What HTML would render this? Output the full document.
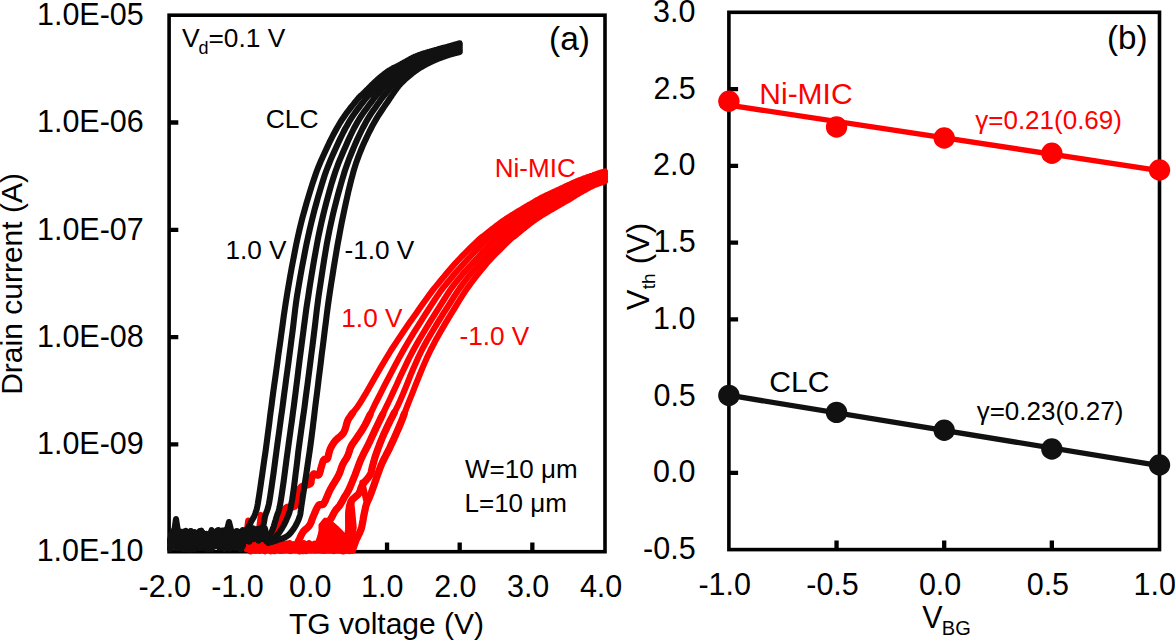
<!DOCTYPE html>
<html><head><meta charset="utf-8"><style>
html,body{margin:0;padding:0;background:#fff;overflow:hidden}
svg{display:block}
text{font-family:"Liberation Sans", sans-serif}
</style></head><body>
<svg width="1175" height="641" viewBox="0 0 1175 641">
<rect width="1175" height="641" fill="#fff"/>
<rect x="169.1" y="15.2" width="435.90" height="536.50" fill="none" stroke="#000" stroke-width="3.6" stroke-linejoin="miter"/>
<rect x="728.9" y="12.3" width="430.60" height="537.30" fill="none" stroke="#000" stroke-width="3.6" stroke-linejoin="miter"/>
<path d="M169.10,122.50H178.30M169.10,229.80H178.30M169.10,337.10H178.30M169.10,444.40H178.30M241.75,551.70V542.50M314.40,551.70V542.50M387.05,551.70V542.50M459.70,551.70V542.50M532.35,551.70V542.50M728.90,89.06H738.10M728.90,165.81H738.10M728.90,242.57H738.10M728.90,319.33H738.10M728.90,396.09H738.10M728.90,472.84H738.10M836.55,549.60V540.40M944.20,549.60V540.40M1051.85,549.60V540.40" stroke="#000" stroke-width="4.3" fill="none"/>
<path d="M244.0,545.7 L245.3,545.7 L246.6,549.1 L247.9,546.9 L249.2,543.5 L250.5,551.5 L251.8,550.6 L253.1,550.8 L254.4,545.1 L255.7,546.3 L257.0,544.9 L258.3,544.1 L259.6,543.3 L262.0,541.0 L264.5,539.8 L267.0,538.7 L269.6,537.7 L272.1,536.5 L274.3,535.0 L276.3,533.2 L277.9,530.8 L279.3,527.9 L280.5,524.8 L281.5,521.6 L282.5,518.7 L283.3,516.3 L283.9,514.3 L284.3,512.7 L284.5,511.2 L284.8,510.0 L285.3,508.9 L286.1,507.9 L287.4,507.3 L289.1,507.0 L291.0,507.0 L292.9,506.8 L294.6,506.2 L296.0,505.0 L297.0,502.9 L297.6,500.0 L298.1,496.7 L298.6,493.4 L299.2,490.4 L300.2,488.2 L301.6,486.8 L303.4,485.9 L305.3,485.3 L307.2,484.9 L308.8,484.5 L310.0,484.0 L310.7,483.3 L311.0,482.7 L311.1,482.1 L311.0,481.5 L311.0,480.8 L311.2,480.0 L311.5,479.0 L311.8,477.9 L312.2,476.7 L312.6,475.6 L313.1,474.6 L313.7,474.0 L314.4,473.8 L315.3,474.1 L316.2,474.5 L317.1,475.0 L318.0,475.2 L318.7,474.9 L319.3,474.1 L319.7,473.0 L320.1,471.7 L320.5,470.2 L320.8,468.7 L321.2,467.4 L321.6,466.1 L322.0,464.7 L322.4,463.3 L322.8,461.9 L323.2,460.8 L323.7,459.9 L324.3,459.4 L324.9,459.3 L325.5,459.4 L326.2,459.4 L326.8,459.3 L327.4,458.7 L327.9,457.7 L328.2,456.3 L328.6,454.8 L328.9,453.1 L329.4,451.4 L329.9,449.9 L330.5,448.4 L331.2,447.0 L332.0,445.5 L332.9,444.1 L333.8,442.6 L334.9,441.2 L336.2,439.8 L337.7,438.4 L339.4,437.0 L341.0,435.6 L342.5,434.1 L343.7,432.5 L344.6,430.7 L345.3,428.7 L345.9,426.7 L346.4,424.7 L346.9,422.8 L347.5,421.2 L348.0,420.0 L348.5,419.1 L348.9,418.3 L349.5,417.5 L350.2,416.5 L351.2,415.0 L352.4,413.4 L353.6,411.9 L354.9,410.2 L356.7,407.9 L359.0,404.6 L361.9,400.0 L365.7,393.7 L370.1,385.9 L375.1,377.2 L380.4,368.0 L385.9,358.7 L391.2,350.0 L396.9,341.3 L403.0,332.2 L409.3,323.1 L415.4,314.4 L420.9,306.6 L425.6,300.0 L429.3,294.9 L432.1,291.1 L434.4,288.1 L436.5,285.6 L438.7,283.0 L441.1,280.0 L443.9,276.7 L446.7,273.3 L449.5,270.0 L452.3,266.7 L455.3,263.3 L458.4,260.0 L461.7,256.5 L465.4,252.8 L469.2,249.0 L472.8,245.5 L476.0,242.4 L478.5,240.0 L480.3,238.4 L481.4,237.4 L482.2,236.9 L482.7,236.5 L483.3,236.2 L484.0,235.7 L484.9,234.9 L485.8,234.2 L486.8,233.4 L487.7,232.7 L488.6,231.9 L489.5,231.2 L490.4,230.5 L491.3,229.7 L492.2,229.0 L493.2,228.3 L494.1,227.6 L495.0,226.9 L495.9,226.2 L496.8,225.5 L497.8,224.8 L498.7,224.1 L499.6,223.4 L500.5,222.7 L501.4,222.1 L502.3,221.4 L503.2,220.8 L504.2,220.2 L505.1,219.6 L506.0,218.9 L506.9,218.3 L507.8,217.7 L508.8,217.1 L509.7,216.6 L510.6,216.0 L511.5,215.4 L512.4,214.8 L513.3,214.3 L514.2,213.7 L515.2,213.1 L516.1,212.6 L517.0,212.0 L517.9,211.5 L518.8,210.9 L519.8,210.4 L520.7,209.8 L521.6,209.3 L522.5,208.7 L523.4,208.2 L524.3,207.6 L525.2,207.1 L526.2,206.6 L527.1,206.0 L528.0,205.5 L528.9,205.0 L529.8,204.4 L530.8,203.9 L531.7,203.4 L532.6,202.8 L533.5,202.3 L534.4,201.7 L535.3,201.2 L536.2,200.6 L537.2,200.1 L538.1,199.6 L539.0,199.1 L539.9,198.6 L540.8,198.1 L541.8,197.6 L542.7,197.1 L543.6,196.7 L544.5,196.2 L545.4,195.8 L546.3,195.4 L547.2,194.9 L548.2,194.5 L549.1,194.1 L550.0,193.6 L550.9,193.2 L551.8,192.8 L552.8,192.4 L553.7,191.9 L554.6,191.5 L555.5,191.1 L556.4,190.7 L557.3,190.2 L558.2,189.8 L559.2,189.4 L560.1,189.0 L561.0,188.5 L561.9,188.1 L562.8,187.7 L563.8,187.2 L564.7,186.8 L565.6,186.4 L566.5,185.9 L567.4,185.5 L568.3,185.1 L569.2,184.7 L570.2,184.3 L571.1,183.9 L572.0,183.4 L572.9,183.0 L573.8,182.6 L574.8,182.2 L575.7,181.8 L576.6,181.4 L577.5,181.0 L578.4,180.7 L579.3,180.3 L580.2,179.9 L581.2,179.6 L582.1,179.2 L583.0,178.9 L583.9,178.5 L584.8,178.2 L585.8,177.9 L586.7,177.5 L587.6,177.2 L588.5,176.9 L589.4,176.6 L590.3,176.2 L591.2,175.9 L592.2,175.6 L593.1,175.3 L594.0,174.9 L594.9,174.6 L595.8,174.3 L596.8,174.0 L597.7,173.6 L598.6,173.3 L599.5,173.0 L600.4,172.8 L601.3,172.5 L602.2,172.2 L603.2,172.0 L604.1,171.8 L605.0,171.5" fill="none" stroke="#ff0000" stroke-width="6.1" stroke-linejoin="round" stroke-linecap="round"/>
<path d="M262.0,541.0 L264.5,539.8 L267.0,538.7 L269.6,537.7 L272.1,536.5 L274.3,535.0 L276.3,533.2 L277.9,530.8 L279.3,527.9 L280.5,524.8 L281.5,521.6 L282.5,518.7 L283.3,516.3 L283.9,514.3 L284.3,512.7 L284.5,511.2 L284.8,510.0 L285.3,508.9 L286.1,507.9 L287.4,507.3 L289.1,507.0 L291.0,507.0 L292.9,506.8 L294.6,506.2 L296.0,505.0 L297.0,502.9 L297.6,500.0 L298.1,496.7 L298.6,493.4 L299.2,490.4 L300.2,488.2 L301.6,486.8 L303.4,485.9 L305.3,485.3 L307.2,484.9 L308.8,484.5 L310.0,484.0 L310.7,483.3 L311.0,482.7 L311.1,482.1 L311.0,481.5 L311.0,480.8 L311.2,480.0 L311.5,479.0 L311.8,477.9 L312.2,476.7 L312.6,475.6 L313.1,474.6 L313.7,474.0 L314.4,473.8 L315.3,474.1 L316.2,474.5 L317.1,475.0 L318.0,475.2 L318.7,474.9 L319.3,474.1 L319.7,473.0 L320.1,471.7 L320.5,470.2 L320.8,468.7 L321.2,467.4 L321.6,466.1 L322.0,464.7 L322.4,463.3 L322.8,461.9 L323.2,460.8 L323.7,459.9 L324.3,459.4 L324.9,459.3 L325.5,459.4 L326.2,459.4 L326.8,459.3 L327.4,458.7 L327.9,457.7 L328.2,456.3 L328.6,454.8 L328.9,453.1 L329.4,451.4 L329.9,449.9 L330.5,448.4 L331.2,447.0 L332.0,445.5 L332.9,444.1 L333.8,442.6 L334.9,441.2 L336.2,439.8 L337.7,438.4 L339.4,437.0 L341.0,435.6 L342.5,434.1 L343.7,432.5 L344.6,430.7 L345.3,428.7 L345.9,426.7 L346.4,424.7 L346.9,422.8 L347.5,421.2 L348.0,420.0 L348.5,419.1 L348.9,418.3 L349.5,417.5 L350.2,416.5 L351.2,415.0 L352.4,413.4" fill="none" stroke="#ff0000" stroke-width="7.2" stroke-linejoin="round" stroke-linecap="round"/>
<path d="M246.0,547.3 L247.3,544.0 L248.6,544.5 L249.9,550.3 L251.2,547.1 L252.5,544.6 L253.8,548.7 L255.1,545.3 L256.4,547.5 L257.7,545.4 L259.0,547.4 L260.3,548.3 L261.6,547.6 L262.9,546.4 L264.2,549.7 L265.5,550.4 L266.8,544.5 L268.1,544.2 L269.4,544.0 L270.7,551.3 L272.0,551.0 L273.3,545.0 L274.6,551.2 L275.9,544.8 L277.2,547.3 L278.5,547.2 L279.8,550.8 L281.1,543.3 L282.4,545.7 L283.7,548.1 L285.0,543.6 L286.3,545.0 L287.6,547.0 L288.9,550.5 L290.2,549.5 L291.5,550.0 L292.8,549.5 L294.1,549.0 L295.4,550.2 L298.0,542.0 L298.8,540.3 L299.7,538.5 L300.5,536.7 L301.3,534.9 L302.2,533.3 L303.1,531.8 L304.1,530.6 L305.2,529.6 L306.3,528.7 L307.4,527.8 L308.4,526.8 L309.4,525.5 L310.3,523.9 L311.1,522.2 L311.8,520.2 L312.5,518.3 L313.2,516.4 L314.0,514.6 L314.8,512.9 L315.5,511.1 L316.3,509.3 L317.1,507.7 L317.9,506.3 L318.7,505.2 L319.5,504.6 L320.3,504.6 L321.1,504.7 L321.9,504.8 L322.8,504.6 L323.7,503.7 L324.6,502.1 L325.6,500.1 L326.6,497.7 L327.7,495.1 L328.8,492.5 L330.0,490.0 L331.4,487.5 L332.9,484.9 L334.5,482.3 L336.1,479.7 L337.5,477.2 L338.7,475.0 L339.6,473.0 L340.3,471.2 L340.8,469.6 L341.3,468.0 L341.9,466.4 L342.5,464.9 L343.3,463.4 L344.1,461.9 L345.0,460.5 L345.9,459.1 L346.7,457.7 L347.5,456.2 L348.2,454.6 L348.8,452.9 L349.4,451.1 L349.9,449.4 L350.5,447.7 L351.2,446.2 L351.9,444.9 L352.6,443.7 L353.4,442.7 L354.2,441.6 L355.1,440.3 L356.2,438.7 L357.4,436.9 L358.7,435.0 L360.1,432.9 L361.7,430.6 L363.3,428.0 L365.0,425.0 L366.7,421.8 L368.3,418.4 L370.0,414.8 L372.0,410.6 L374.3,405.7 L377.2,400.0 L380.7,393.1 L384.7,385.2 L389.2,376.6 L393.9,367.6 L398.7,358.6 L403.5,350.0 L408.6,341.3 L414.1,332.2 L419.8,323.1 L425.3,314.4 L430.3,306.6 L434.6,300.0 L438.0,294.9 L440.7,291.1 L442.9,288.1 L445.0,285.6 L447.1,283.0 L449.6,280.0 L452.3,276.7 L455.1,273.3 L458.0,270.0 L461.0,266.7 L464.0,263.3 L467.0,260.0 L470.3,256.5 L473.8,252.7 L477.4,249.0 L480.8,245.5 L483.9,242.4 L486.3,240.0 L488.0,238.4 L489.1,237.5 L489.8,237.0 L490.3,236.7 L490.8,236.4 L491.4,235.9 L492.3,235.2 L493.2,234.5 L494.0,233.8 L494.9,233.1 L495.8,232.4 L496.6,231.7 L497.5,231.0 L498.3,230.3 L499.2,229.6 L500.1,229.0 L500.9,228.3 L501.8,227.6 L502.6,226.9 L503.5,226.3 L504.4,225.6 L505.2,225.0 L506.1,224.3 L506.9,223.7 L507.8,223.1 L508.7,222.4 L509.5,221.8 L510.4,221.2 L511.2,220.6 L512.1,220.0 L513.0,219.4 L513.8,218.9 L514.7,218.3 L515.5,217.7 L516.4,217.2 L517.3,216.6 L518.1,216.1 L519.0,215.5 L519.8,215.0 L520.7,214.4 L521.6,213.9 L522.4,213.4 L523.3,212.8 L524.1,212.3 L525.0,211.8 L525.9,211.3 L526.7,210.8 L527.6,210.2 L528.4,209.7 L529.3,209.2 L530.2,208.7 L531.0,208.2 L531.9,207.7 L532.7,207.2 L533.6,206.7 L534.5,206.2 L535.3,205.7 L536.2,205.2 L537.0,204.7 L537.9,204.2 L538.8,203.7 L539.6,203.1 L540.5,202.6 L541.3,202.1 L542.2,201.6 L543.1,201.1 L543.9,200.7 L544.8,200.2 L545.6,199.8 L546.5,199.3 L547.4,198.9 L548.2,198.4 L549.1,198.0 L549.9,197.6 L550.8,197.1 L551.7,196.7 L552.5,196.3 L553.4,195.9 L554.2,195.5 L555.1,195.0 L556.0,194.6 L556.8,194.2 L557.7,193.8 L558.5,193.4 L559.4,193.0 L560.3,192.5 L561.1,192.1 L562.0,191.7 L562.8,191.3 L563.7,190.8 L564.6,190.4 L565.4,190.0 L566.3,189.5 L567.1,189.1 L568.0,188.7 L568.9,188.2 L569.7,187.8 L570.6,187.4 L571.5,187.0 L572.3,186.6 L573.2,186.2 L574.0,185.8 L574.9,185.3 L575.8,184.9 L576.6,184.5 L577.5,184.1 L578.3,183.8 L579.2,183.4 L580.1,183.0 L580.9,182.6 L581.8,182.2 L582.6,181.9 L583.5,181.5 L584.4,181.2 L585.2,180.8 L586.1,180.5 L586.9,180.1 L587.8,179.8 L588.7,179.5 L589.5,179.1 L590.4,178.8 L591.2,178.5 L592.1,178.2 L593.0,177.9 L593.8,177.6 L594.7,177.3 L595.5,176.9 L596.4,176.6 L597.3,176.3 L598.1,176.0 L599.0,175.7 L599.8,175.5 L600.7,175.2 L601.6,174.9 L602.4,174.7 L603.3,174.4 L604.1,174.2 L605.0,173.9" fill="none" stroke="#ff0000" stroke-width="6.1" stroke-linejoin="round" stroke-linecap="round"/>
<path d="M298.0,542.0 L298.8,540.3 L299.7,538.5 L300.5,536.7 L301.3,534.9 L302.2,533.3 L303.1,531.8 L304.1,530.6 L305.2,529.6 L306.3,528.7 L307.4,527.8 L308.4,526.8 L309.4,525.5 L310.3,523.9 L311.1,522.2 L311.8,520.2 L312.5,518.3 L313.2,516.4 L314.0,514.6 L314.8,512.9 L315.5,511.1 L316.3,509.3 L317.1,507.7 L317.9,506.3 L318.7,505.2 L319.5,504.6 L320.3,504.6 L321.1,504.7 L321.9,504.8 L322.8,504.6 L323.7,503.7 L324.6,502.1 L325.6,500.1 L326.6,497.7 L327.7,495.1 L328.8,492.5 L330.0,490.0 L331.4,487.5 L332.9,484.9 L334.5,482.3 L336.1,479.7 L337.5,477.2 L338.7,475.0 L339.6,473.0 L340.3,471.2 L340.8,469.6 L341.3,468.0 L341.9,466.4 L342.5,464.9 L343.3,463.4 L344.1,461.9 L345.0,460.5 L345.9,459.1 L346.7,457.7 L347.5,456.2 L348.2,454.6 L348.8,452.9 L349.4,451.1 L349.9,449.4 L350.5,447.7 L351.2,446.2 L351.9,444.9 L352.6,443.7 L353.4,442.7 L354.2,441.6 L355.1,440.3 L356.2,438.7 L357.4,436.9 L358.7,435.0 L360.1,432.9 L361.7,430.6 L363.3,428.0 L365.0,425.0 L366.7,421.8 L368.3,418.4 L370.0,414.8" fill="none" stroke="#ff0000" stroke-width="7.2" stroke-linejoin="round" stroke-linecap="round"/>
<path d="M248.0,548.8 L249.3,549.3 L250.6,545.6 L251.9,544.4 L253.2,549.4 L254.5,544.4 L255.8,550.8 L257.1,548.1 L258.4,545.8 L259.7,551.0 L261.0,544.3 L262.3,547.4 L263.6,543.8 L264.9,551.2 L266.2,547.9 L267.5,549.8 L268.8,545.4 L270.1,549.8 L271.4,549.0 L272.7,548.5 L274.0,551.1 L275.3,546.7 L276.6,546.5 L277.9,548.9 L279.2,550.1 L280.5,545.8 L281.8,548.7 L283.1,544.8 L284.4,547.7 L285.7,549.5 L287.0,543.6 L288.3,549.2 L289.6,543.1 L290.9,551.1 L292.2,547.0 L293.5,546.5 L294.8,549.1 L296.1,547.4 L297.4,549.2 L298.7,543.7 L300.0,547.8 L301.3,547.7 L302.6,550.9 L303.9,543.3 L305.2,546.8 L306.5,548.4 L307.8,547.7 L309.1,543.6 L310.4,548.0 L311.7,544.9 L313.0,544.7 L314.3,550.5 L315.6,544.7 L318.0,545.0 L318.8,542.6 L319.6,540.2 L320.4,537.8 L321.1,535.4 L321.9,533.2 L322.5,531.2 L323.0,529.4 L323.4,527.7 L323.7,526.1 L324.1,524.7 L324.5,523.4 L325.0,522.4 L325.7,521.7 L326.5,521.4 L327.3,521.2 L328.2,521.0 L329.1,520.7 L330.0,520.0 L330.8,518.9 L331.7,517.4 L332.5,515.8 L333.3,514.2 L334.2,512.6 L335.0,511.2 L335.8,510.0 L336.7,509.0 L337.5,508.1 L338.3,507.2 L339.2,506.2 L340.0,505.0 L340.8,503.7 L341.7,502.2 L342.6,500.6 L343.4,499.0 L344.2,497.5 L345.0,496.2 L345.7,495.1 L346.2,494.3 L346.8,493.5 L347.3,492.6 L347.9,491.5 L348.7,490.0 L349.6,488.0 L350.6,485.7 L351.7,483.1 L352.8,480.4 L353.9,477.7 L355.0,475.0 L356.0,472.3 L357.0,469.6 L358.0,466.9 L359.0,464.1 L360.1,461.4 L361.2,458.7 L362.4,456.2 L363.6,453.7 L364.8,451.4 L366.1,448.9 L367.4,446.4 L368.7,443.7 L370.1,440.9 L371.4,438.0 L372.8,435.0 L374.3,431.8 L375.8,428.5 L377.5,425.0 L379.2,421.5 L380.8,418.1 L382.6,414.5 L384.5,410.4 L386.8,405.7 L389.5,400.0 L392.7,393.1 L396.4,385.2 L400.3,376.6 L404.6,367.6 L408.9,358.6 L413.4,350.0 L418.3,341.3 L423.7,332.2 L429.2,323.1 L434.7,314.4 L439.6,306.6 L443.8,300.0 L447.0,294.9 L449.5,291.1 L451.6,288.1 L453.4,285.6 L455.4,283.0 L457.8,280.0 L460.5,276.7 L463.4,273.3 L466.3,270.0 L469.4,266.7 L472.4,263.3 L475.5,260.0 L478.7,256.5 L482.1,252.7 L485.6,249.0 L488.9,245.5 L491.8,242.4 L494.1,240.0 L495.7,238.4 L496.7,237.5 L497.3,237.1 L497.8,236.8 L498.3,236.6 L498.9,236.2 L499.7,235.5 L500.5,234.8 L501.3,234.2 L502.1,233.5 L502.9,232.9 L503.7,232.2 L504.5,231.6 L505.3,230.9 L506.1,230.3 L506.9,229.6 L507.7,229.0 L508.5,228.3 L509.3,227.7 L510.2,227.1 L511.0,226.5 L511.8,225.8 L512.6,225.2 L513.4,224.6 L514.2,224.0 L515.0,223.4 L515.8,222.8 L516.6,222.2 L517.4,221.7 L518.2,221.1 L519.0,220.5 L519.8,220.0 L520.6,219.4 L521.4,218.9 L522.2,218.3 L523.0,217.8 L523.8,217.3 L524.6,216.8 L525.4,216.2 L526.2,215.7 L527.0,215.2 L527.8,214.7 L528.6,214.2 L529.4,213.7 L530.2,213.2 L531.0,212.7 L531.9,212.2 L532.7,211.7 L533.5,211.3 L534.3,210.8 L535.1,210.3 L535.9,209.8 L536.7,209.3 L537.5,208.9 L538.3,208.4 L539.1,207.9 L539.9,207.5 L540.7,207.0 L541.5,206.5 L542.3,206.1 L543.1,205.6 L543.9,205.1 L544.7,204.6 L545.5,204.2 L546.3,203.7 L547.1,203.2 L547.9,202.8 L548.7,202.3 L549.5,201.9 L550.3,201.5 L551.1,201.0 L551.9,200.6 L552.8,200.2 L553.6,199.8 L554.4,199.3 L555.2,198.9 L556.0,198.5 L556.8,198.1 L557.6,197.7 L558.4,197.3 L559.2,196.9 L560.0,196.5 L560.8,196.1 L561.6,195.7 L562.4,195.3 L563.2,194.8 L564.0,194.4 L564.8,194.0 L565.6,193.6 L566.4,193.1 L567.2,192.7 L568.0,192.3 L568.8,191.8 L569.6,191.4 L570.4,191.0 L571.2,190.5 L572.0,190.1 L572.8,189.7 L573.7,189.3 L574.5,188.9 L575.3,188.5 L576.1,188.1 L576.9,187.7 L577.7,187.3 L578.5,186.9 L579.3,186.5 L580.1,186.1 L580.9,185.7 L581.7,185.3 L582.5,184.9 L583.3,184.6 L584.1,184.2 L584.9,183.8 L585.7,183.5 L586.5,183.1 L587.3,182.8 L588.1,182.4 L588.9,182.1 L589.7,181.7 L590.5,181.4 L591.3,181.1 L592.1,180.8 L592.9,180.5 L593.7,180.2 L594.6,179.9 L595.4,179.6 L596.2,179.3 L597.0,179.0 L597.8,178.7 L598.6,178.4 L599.4,178.1 L600.2,177.9 L601.0,177.6 L601.8,177.4 L602.6,177.1 L603.4,176.9 L604.2,176.6 L605.0,176.4" fill="none" stroke="#ff0000" stroke-width="6.1" stroke-linejoin="round" stroke-linecap="round"/>
<path d="M318.0,545.0 L318.8,542.6 L319.6,540.2 L320.4,537.8 L321.1,535.4 L321.9,533.2 L322.5,531.2 L323.0,529.4 L323.4,527.7 L323.7,526.1 L324.1,524.7 L324.5,523.4 L325.0,522.4 L325.7,521.7 L326.5,521.4 L327.3,521.2 L328.2,521.0 L329.1,520.7 L330.0,520.0 L330.8,518.9 L331.7,517.4 L332.5,515.8 L333.3,514.2 L334.2,512.6 L335.0,511.2 L335.8,510.0 L336.7,509.0 L337.5,508.1 L338.3,507.2 L339.2,506.2 L340.0,505.0 L340.8,503.7 L341.7,502.2 L342.6,500.6 L343.4,499.0 L344.2,497.5 L345.0,496.2 L345.7,495.1 L346.2,494.3 L346.8,493.5 L347.3,492.6 L347.9,491.5 L348.7,490.0 L349.6,488.0 L350.6,485.7 L351.7,483.1 L352.8,480.4 L353.9,477.7 L355.0,475.0 L356.0,472.3 L357.0,469.6 L358.0,466.9 L359.0,464.1 L360.1,461.4 L361.2,458.7 L362.4,456.2 L363.6,453.7 L364.8,451.4 L366.1,448.9 L367.4,446.4 L368.7,443.7 L370.1,440.9 L371.4,438.0 L372.8,435.0 L374.3,431.8 L375.8,428.5 L377.5,425.0 L379.2,421.5 L380.8,418.1 L382.6,414.5" fill="none" stroke="#ff0000" stroke-width="7.2" stroke-linejoin="round" stroke-linecap="round"/>
<path d="M250.0,546.9 L251.3,549.4 L252.6,549.0 L253.9,547.7 L255.2,549.9 L256.5,547.0 L257.8,548.3 L259.1,550.0 L260.4,548.8 L261.7,548.5 L263.0,546.5 L264.3,547.7 L265.6,546.4 L266.9,549.3 L268.2,546.2 L269.5,547.0 L270.8,549.4 L272.1,547.3 L273.4,545.9 L274.7,550.0 L276.0,546.2 L277.3,550.2 L278.6,549.7 L279.9,546.8 L281.2,549.1 L282.5,543.3 L283.8,546.3 L285.1,550.3 L286.4,547.9 L287.7,547.7 L289.0,548.7 L290.3,548.8 L291.6,548.0 L292.9,546.6 L294.2,544.6 L295.5,545.5 L296.8,545.5 L298.1,546.7 L299.4,551.5 L300.7,546.0 L302.0,546.8 L303.3,546.2 L304.6,547.9 L305.9,551.1 L307.2,550.6 L308.5,546.2 L309.8,545.3 L311.1,550.5 L312.4,547.2 L313.7,548.8 L315.0,543.6 L316.3,550.4 L317.6,545.7 L318.9,547.2 L320.2,544.7 L321.5,546.6 L322.8,550.0 L324.1,550.0 L325.4,547.0 L326.7,549.5 L328.0,546.9 L329.3,546.2 L330.6,547.6 L331.9,544.7 L333.2,545.7 L334.5,549.0 L335.8,549.5 L337.1,543.5 L338.4,549.2 L339.7,549.9 L341.0,546.8 L342.3,543.5 L345.0,550.0 L345.4,547.9 L345.9,545.7 L346.3,543.5 L346.8,541.4 L347.2,539.3 L347.5,537.4 L347.8,535.6 L348.0,534.1 L348.3,532.5 L348.4,531.0 L348.6,529.3 L348.7,527.4 L348.7,525.2 L348.7,522.7 L348.6,520.0 L348.6,517.4 L348.6,514.8 L348.7,512.5 L348.9,510.4 L349.2,508.3 L349.5,506.4 L349.9,504.6 L350.5,502.8 L351.2,501.2 L352.2,499.7 L353.5,498.5 L354.9,497.3 L356.3,496.1 L357.6,495.0 L358.7,493.7 L359.5,492.3 L360.1,490.9 L360.5,489.5 L361.0,488.0 L361.6,486.5 L362.4,485.0 L363.5,483.4 L364.8,481.7 L366.3,480.0 L367.7,478.3 L369.0,476.6 L370.0,475.0 L370.7,473.5 L371.2,472.1 L371.5,470.8 L371.8,469.4 L372.1,467.9 L372.5,466.2 L373.0,464.4 L373.6,462.4 L374.1,460.4 L374.7,458.3 L375.4,456.0 L376.2,453.7 L377.1,451.2 L378.0,448.6 L379.1,445.8 L380.1,443.0 L381.3,440.2 L382.4,437.5 L383.5,434.8 L384.7,432.3 L385.9,429.7 L387.1,427.0 L388.5,424.2 L389.9,421.2 L391.4,418.3 L392.8,415.6 L394.3,412.7 L396.0,409.4 L398.0,405.3 L400.4,400.0 L403.3,393.3 L406.5,385.5 L409.9,376.8 L413.7,367.7 L417.7,358.7 L421.9,350.0 L426.6,341.3 L431.9,332.2 L437.4,323.1 L442.8,314.4 L447.8,306.6 L452.0,300.0 L455.2,294.9 L457.7,291.1 L459.7,288.1 L461.5,285.6 L463.5,283.0 L465.8,280.0 L468.4,276.7 L471.1,273.3 L474.0,270.0 L476.9,266.7 L479.9,263.3 L482.9,260.0 L486.1,256.5 L489.6,252.7 L493.1,249.0 L496.5,245.5 L499.5,242.4 L501.9,240.0 L503.5,238.5 L504.4,237.6 L505.0,237.2 L505.4,237.0 L505.8,236.8 L506.3,236.4 L507.1,235.8 L507.8,235.2 L508.6,234.6 L509.3,234.0 L510.1,233.3 L510.8,232.7 L511.6,232.1 L512.3,231.5 L513.1,230.9 L513.8,230.3 L514.6,229.7 L515.3,229.1 L516.1,228.5 L516.8,227.9 L517.6,227.3 L518.3,226.7 L519.1,226.1 L519.8,225.6 L520.5,225.0 L521.3,224.4 L522.0,223.8 L522.8,223.3 L523.5,222.7 L524.3,222.2 L525.0,221.6 L525.8,221.1 L526.5,220.6 L527.3,220.0 L528.0,219.5 L528.8,219.0 L529.5,218.5 L530.3,218.0 L531.0,217.5 L531.8,217.0 L532.5,216.5 L533.3,216.0 L534.0,215.6 L534.7,215.1 L535.5,214.6 L536.2,214.2 L537.0,213.7 L537.7,213.2 L538.5,212.8 L539.2,212.3 L540.0,211.9 L540.7,211.4 L541.5,211.0 L542.2,210.6 L543.0,210.1 L543.7,209.7 L544.5,209.2 L545.2,208.8 L546.0,208.4 L546.7,207.9 L547.5,207.5 L548.2,207.1 L548.9,206.6 L549.7,206.2 L550.4,205.8 L551.2,205.3 L551.9,204.9 L552.7,204.5 L553.4,204.1 L554.2,203.6 L554.9,203.2 L555.7,202.8 L556.4,202.4 L557.2,202.0 L557.9,201.6 L558.7,201.2 L559.4,200.7 L560.2,200.3 L560.9,199.9 L561.7,199.6 L562.4,199.2 L563.1,198.8 L563.9,198.4 L564.6,198.0 L565.4,197.6 L566.1,197.1 L566.9,196.7 L567.6,196.3 L568.4,195.9 L569.1,195.4 L569.9,195.0 L570.6,194.6 L571.4,194.1 L572.1,193.7 L572.9,193.2 L573.6,192.8 L574.4,192.4 L575.1,192.0 L575.9,191.6 L576.6,191.2 L577.3,190.8 L578.1,190.4 L578.8,190.0 L579.6,189.6 L580.3,189.2 L581.1,188.8 L581.8,188.4 L582.6,188.0 L583.3,187.6 L584.1,187.2 L584.8,186.9 L585.6,186.5 L586.3,186.1 L587.1,185.8 L587.8,185.4 L588.6,185.0 L589.3,184.7 L590.1,184.3 L590.8,184.0 L591.5,183.7 L592.3,183.4 L593.0,183.0 L593.8,182.7 L594.5,182.4 L595.3,182.2 L596.0,181.9 L596.8,181.6 L597.5,181.3 L598.3,181.1 L599.0,180.8 L599.8,180.5 L600.5,180.3 L601.3,180.0 L602.0,179.8 L602.8,179.6 L603.5,179.3 L604.3,179.1 L605.0,178.9" fill="none" stroke="#ff0000" stroke-width="6.1" stroke-linejoin="round" stroke-linecap="round"/>
<path d="M345.0,550.0 L345.4,547.9 L345.9,545.7 L346.3,543.5 L346.8,541.4 L347.2,539.3 L347.5,537.4 L347.8,535.6 L348.0,534.1 L348.3,532.5 L348.4,531.0 L348.6,529.3 L348.7,527.4 L348.7,525.2 L348.7,522.7 L348.6,520.0 L348.6,517.4 L348.6,514.8 L348.7,512.5 L348.9,510.4 L349.2,508.3 L349.5,506.4 L349.9,504.6 L350.5,502.8 L351.2,501.2 L352.2,499.7 L353.5,498.5 L354.9,497.3 L356.3,496.1 L357.6,495.0 L358.7,493.7 L359.5,492.3 L360.1,490.9 L360.5,489.5 L361.0,488.0 L361.6,486.5 L362.4,485.0 L363.5,483.4 L364.8,481.7 L366.3,480.0 L367.7,478.3 L369.0,476.6 L370.0,475.0 L370.7,473.5 L371.2,472.1 L371.5,470.8 L371.8,469.4 L372.1,467.9 L372.5,466.2 L373.0,464.4 L373.6,462.4 L374.1,460.4 L374.7,458.3 L375.4,456.0 L376.2,453.7 L377.1,451.2 L378.0,448.6 L379.1,445.8 L380.1,443.0 L381.3,440.2 L382.4,437.5 L383.5,434.8 L384.7,432.3 L385.9,429.7 L387.1,427.0 L388.5,424.2 L389.9,421.2 L391.4,418.3 L392.8,415.6 L394.3,412.7" fill="none" stroke="#ff0000" stroke-width="7.2" stroke-linejoin="round" stroke-linecap="round"/>
<path d="M252.0,548.8 L253.3,545.1 L254.6,548.5 L255.9,546.2 L257.2,548.4 L258.5,545.2 L259.8,547.1 L261.1,547.5 L262.4,548.4 L263.7,544.7 L265.0,551.2 L266.3,545.5 L267.6,545.6 L268.9,545.2 L270.2,543.6 L271.5,546.6 L272.8,549.6 L274.1,549.0 L275.4,544.7 L276.7,544.2 L278.0,545.7 L279.3,549.5 L280.6,547.1 L281.9,550.8 L283.2,548.6 L284.5,548.3 L285.8,549.5 L287.1,549.4 L288.4,545.9 L289.7,545.2 L291.0,546.7 L292.3,547.2 L293.6,544.2 L294.9,546.8 L296.2,548.4 L297.5,544.2 L298.8,544.2 L300.1,544.5 L301.4,545.4 L302.7,551.2 L304.0,543.2 L305.3,544.6 L306.6,544.4 L307.9,547.0 L309.2,543.1 L310.5,546.9 L311.8,544.4 L313.1,545.3 L314.4,549.7 L315.7,544.6 L317.0,548.2 L318.3,546.5 L319.6,546.5 L320.9,549.9 L322.2,544.4 L323.5,550.9 L324.8,550.6 L326.1,548.7 L327.4,543.4 L328.7,548.6 L330.0,548.1 L331.3,549.6 L332.6,544.8 L333.9,551.1 L335.2,550.5 L336.5,544.0 L337.8,545.7 L339.1,543.3 L340.4,550.1 L341.7,550.8 L343.0,551.4 L344.3,548.2 L345.6,548.7 L346.9,548.8 L348.2,547.8 L349.5,551.1 L352.5,550.0 L353.1,548.3 L353.7,546.7 L354.3,545.0 L354.9,543.3 L355.5,541.6 L356.2,539.9 L357.0,538.1 L357.9,536.3 L358.8,534.5 L359.7,532.6 L360.5,530.7 L361.2,528.7 L361.8,526.7 L362.2,524.6 L362.6,522.5 L363.0,520.3 L363.3,518.2 L363.7,516.2 L364.1,514.2 L364.5,512.3 L364.9,510.4 L365.3,508.5 L365.7,506.7 L366.2,505.0 L366.7,503.5 L367.3,502.1 L367.9,500.8 L368.5,499.4 L369.2,497.9 L369.9,496.2 L370.7,494.1 L371.6,491.8 L372.5,489.3 L373.4,486.8 L374.2,484.5 L374.9,482.5 L375.4,480.9 L375.9,479.7 L376.2,478.6 L376.6,477.6 L377.0,476.4 L377.5,474.9 L378.2,473.1 L378.9,471.2 L379.6,469.1 L380.5,466.9 L381.4,464.7 L382.4,462.4 L383.5,460.1 L384.6,457.9 L385.8,455.5 L387.1,453.0 L388.5,450.4 L389.9,447.4 L391.4,444.1 L393.1,440.6 L394.8,436.8 L396.5,432.9 L398.2,429.0 L399.9,425.0 L401.4,421.3 L402.8,417.8 L404.1,414.2 L405.6,410.3 L407.4,405.6 L409.6,400.0 L412.4,393.1 L415.5,385.2 L418.9,376.6 L422.6,367.6 L426.5,358.6 L430.6,350.0 L435.1,341.3 L440.2,332.2 L445.5,323.1 L450.8,314.4 L455.6,306.6 L459.6,300.0 L462.8,294.9 L465.3,291.1 L467.3,288.1 L469.2,285.6 L471.1,283.0 L473.4,280.0 L475.9,276.7 L478.5,273.3 L481.2,270.0 L484.0,266.7 L486.8,263.3 L489.8,260.0 L493.1,256.5 L496.7,252.7 L500.5,249.0 L504.1,245.4 L507.2,242.4 L509.6,240.0 L511.2,238.5 L512.2,237.7 L512.7,237.3 L513.0,237.2 L513.3,237.0 L513.8,236.7 L514.5,236.1 L515.2,235.5 L515.9,235.0 L516.6,234.4 L517.3,233.8 L517.9,233.2 L518.6,232.7 L519.3,232.1 L520.0,231.5 L520.7,231.0 L521.4,230.4 L522.1,229.8 L522.8,229.3 L523.5,228.7 L524.2,228.2 L524.9,227.6 L525.5,227.0 L526.2,226.5 L526.9,225.9 L527.6,225.4 L528.3,224.9 L529.0,224.3 L529.7,223.8 L530.4,223.3 L531.1,222.7 L531.8,222.2 L532.5,221.7 L533.1,221.2 L533.8,220.7 L534.5,220.2 L535.2,219.7 L535.9,219.2 L536.6,218.8 L537.3,218.3 L538.0,217.8 L538.7,217.4 L539.4,216.9 L540.1,216.5 L540.7,216.0 L541.4,215.6 L542.1,215.2 L542.8,214.8 L543.5,214.3 L544.2,213.9 L544.9,213.5 L545.6,213.1 L546.3,212.7 L547.0,212.2 L547.7,211.8 L548.3,211.4 L549.0,211.0 L549.7,210.6 L550.4,210.2 L551.1,209.8 L551.8,209.4 L552.5,209.0 L553.2,208.6 L553.9,208.2 L554.6,207.8 L555.3,207.4 L555.9,207.0 L556.6,206.6 L557.3,206.2 L558.0,205.8 L558.7,205.4 L559.4,205.0 L560.1,204.6 L560.8,204.2 L561.5,203.8 L562.2,203.4 L562.9,203.0 L563.5,202.6 L564.2,202.2 L564.9,201.8 L565.6,201.4 L566.3,201.0 L567.0,200.7 L567.7,200.3 L568.4,199.9 L569.1,199.4 L569.8,199.0 L570.5,198.6 L571.1,198.2 L571.8,197.7 L572.5,197.3 L573.2,196.9 L573.9,196.4 L574.6,196.0 L575.3,195.5 L576.0,195.1 L576.7,194.7 L577.4,194.3 L578.1,193.9 L578.7,193.5 L579.4,193.1 L580.1,192.7 L580.8,192.3 L581.5,191.9 L582.2,191.5 L582.9,191.1 L583.6,190.7 L584.3,190.3 L585.0,189.9 L585.7,189.6 L586.3,189.2 L587.0,188.8 L587.7,188.4 L588.4,188.1 L589.1,187.7 L589.8,187.3 L590.5,187.0 L591.2,186.6 L591.9,186.3 L592.6,185.9 L593.3,185.6 L593.9,185.3 L594.6,185.0 L595.3,184.7 L596.0,184.5 L596.7,184.2 L597.4,183.9 L598.1,183.7 L598.8,183.4 L599.5,183.2 L600.2,182.9 L600.9,182.7 L601.5,182.5 L602.2,182.2 L602.9,182.0 L603.6,181.8 L604.3,181.5 L605.0,181.3" fill="none" stroke="#ff0000" stroke-width="6.1" stroke-linejoin="round" stroke-linecap="round"/>
<path d="M352.5,550.0 L353.1,548.3 L353.7,546.7 L354.3,545.0 L354.9,543.3 L355.5,541.6 L356.2,539.9 L357.0,538.1 L357.9,536.3 L358.8,534.5 L359.7,532.6 L360.5,530.7 L361.2,528.7 L361.8,526.7 L362.2,524.6 L362.6,522.5 L363.0,520.3 L363.3,518.2 L363.7,516.2 L364.1,514.2 L364.5,512.3 L364.9,510.4 L365.3,508.5 L365.7,506.7 L366.2,505.0 L366.7,503.5 L367.3,502.1 L367.9,500.8 L368.5,499.4 L369.2,497.9 L369.9,496.2 L370.7,494.1 L371.6,491.8 L372.5,489.3 L373.4,486.8 L374.2,484.5 L374.9,482.5 L375.4,480.9 L375.9,479.7 L376.2,478.6 L376.6,477.6 L377.0,476.4 L377.5,474.9 L378.2,473.1 L378.9,471.2 L379.6,469.1 L380.5,466.9 L381.4,464.7 L382.4,462.4 L383.5,460.1 L384.6,457.9 L385.8,455.5 L387.1,453.0 L388.5,450.4 L389.9,447.4 L391.4,444.1 L393.1,440.6 L394.8,436.8 L396.5,432.9 L398.2,429.0 L399.9,425.0 L401.4,421.3 L402.8,417.8 L404.1,414.2" fill="none" stroke="#ff0000" stroke-width="7.2" stroke-linejoin="round" stroke-linecap="round"/>
<path d="M320,552 L320,525 L325,519 L331,522 L338,528 L345,535 L352,541 L352,552 Z" fill="#ff0000" stroke="#ff0000" stroke-width="3" stroke-linejoin="round"/>
<path d="M245.0,545.0 L248.2,520.5 L252.0,545.0" fill="none" stroke="#ff0000" stroke-width="6.1" stroke-linejoin="round" stroke-linecap="round"/>
<path d="M257.0,545.0 L260.9,514.9 L265.0,545.0" fill="none" stroke="#ff0000" stroke-width="6.1" stroke-linejoin="round" stroke-linecap="round"/>
<path d="M362.4,482.5 L366.0,500.0" fill="none" stroke="#ff0000" stroke-width="6.1" stroke-linejoin="round" stroke-linecap="round"/>
<path d="M351.2,501.0 L353.7,527.4 L351.2,542.4" fill="none" stroke="#ff0000" stroke-width="6.1" stroke-linejoin="round" stroke-linecap="round"/>
<path d="M170.1,542.2 L171.4,547.5 L172.7,545.1 L174.0,534.4 L175.3,535.9 L176.6,547.0 L177.9,530.1 L179.2,546.0 L180.5,545.5 L181.8,539.1 L183.1,535.9 L184.4,535.4 L185.7,535.0 L187.0,538.7 L188.3,539.8 L189.6,540.8 L190.9,549.4 L192.2,545.5 L193.5,542.1 L194.8,549.3 L196.1,534.2 L197.4,533.1 L198.7,541.9 L200.0,530.9 L201.3,530.7 L202.6,540.0 L203.9,539.1 L205.2,547.9 L206.5,542.3 L207.8,540.0 L209.1,539.7 L210.4,534.8 L211.7,530.2 L213.0,533.8 L214.3,543.5 L215.6,533.9 L216.9,537.2 L218.2,530.1 L219.5,546.2 L220.8,533.0 L222.1,535.2 L223.4,547.2 L224.7,539.9 L226.0,546.5 L227.3,542.5 L228.6,544.5 L229.9,531.8 L231.2,540.6 L232.5,539.9 L233.8,547.0 L235.1,537.0 L236.4,541.7 L237.7,531.2 L239.0,537.6 L240.3,536.3 L241.6,532.9 L242.9,545.9 L244.2,533.3 L246.8,530.4 L247.3,529.4 L247.8,528.3 L248.4,527.3 L248.9,526.2 L249.4,525.2 L249.9,524.1 L250.5,523.1 L251.0,522.0 L251.5,521.0 L252.1,520.0 L252.7,519.0 L253.2,518.1 L253.8,517.1 L254.3,516.0 L254.8,514.8 L255.3,513.5 L255.7,512.3 L256.0,511.4 L256.3,510.6 L256.6,509.7 L256.9,508.3 L257.3,506.4 L257.8,503.7 L258.4,500.0 L259.2,495.0 L260.1,488.9 L261.1,482.0 L262.2,474.5 L263.3,466.7 L264.4,459.0 L265.5,451.7 L266.4,445.0 L267.2,439.0 L267.9,433.4 L268.6,428.1 L269.3,422.8 L269.9,417.5 L270.6,412.1 L271.4,406.3 L272.2,400.0 L273.1,393.1 L274.1,385.8 L275.2,378.2 L276.3,370.3 L277.4,362.4 L278.4,354.6 L279.5,347.1 L280.5,340.0 L281.4,333.3 L282.3,327.0 L283.1,321.0 L283.9,315.0 L284.8,309.0 L285.7,303.0 L286.7,296.7 L287.8,290.0 L289.0,282.9 L290.3,275.5 L291.7,267.8 L293.2,260.0 L294.7,252.2 L296.2,244.5 L297.8,237.1 L299.4,230.0 L301.1,223.1 L302.8,216.3 L304.7,209.6 L306.5,203.1 L308.4,196.8 L310.2,190.9 L312.0,185.2 L313.7,180.0 L315.3,175.3 L316.8,171.0 L318.3,167.2 L319.8,163.6 L321.2,160.2 L322.7,156.9 L324.3,153.5 L325.9,150.0 L327.6,146.4 L329.3,142.7 L331.1,139.1 L332.9,135.5 L334.8,132.0 L336.7,128.5 L338.6,125.2 L340.5,122.0 L342.5,118.9 L344.7,115.7 L346.9,112.6 L349.2,109.7 L351.3,106.9 L353.4,104.3 L355.2,102.0 L356.9,100.0 L358.2,98.4 L359.2,97.2 L360.1,96.3 L360.9,95.6 L361.6,95.0 L362.2,94.5 L362.9,93.9 L363.7,93.1 L364.6,92.3 L365.4,91.4 L366.3,90.5 L367.1,89.7 L368.0,88.8 L368.8,88.0 L369.7,87.1 L370.6,86.3 L371.4,85.4 L372.3,84.6 L373.1,83.7 L374.0,82.9 L374.8,82.1 L375.7,81.3 L376.6,80.5 L377.4,79.7 L378.3,79.0 L379.1,78.2 L380.0,77.5 L380.8,76.8 L381.7,76.0 L382.6,75.3 L383.4,74.7 L384.3,74.0 L385.1,73.4 L386.0,72.7 L386.8,72.1 L387.7,71.5 L388.6,70.9 L389.4,70.3 L390.3,69.8 L391.1,69.3 L392.0,68.8 L392.8,68.3 L393.7,67.9 L394.6,67.5 L395.4,67.1 L396.3,66.7 L397.1,66.3 L398.0,65.8 L398.8,65.4 L399.7,64.9 L400.6,64.4 L401.4,64.0 L402.3,63.5 L403.1,63.0 L404.0,62.6 L404.8,62.1 L405.7,61.6 L406.6,61.1 L407.4,60.6 L408.3,60.1 L409.1,59.7 L410.0,59.2 L410.8,58.7 L411.7,58.3 L412.6,57.9 L413.4,57.4 L414.3,57.0 L415.1,56.6 L416.0,56.3 L416.8,55.9 L417.7,55.6 L418.6,55.2 L419.4,54.9 L420.3,54.6 L421.1,54.3 L422.0,54.0 L422.8,53.8 L423.7,53.5 L424.6,53.2 L425.4,53.0 L426.3,52.7 L427.1,52.4 L428.0,52.2 L428.8,51.9 L429.7,51.7 L430.6,51.4 L431.4,51.2 L432.3,50.9 L433.1,50.7 L434.0,50.4 L434.8,50.2 L435.7,49.9 L436.6,49.7 L437.4,49.5 L438.3,49.2 L439.1,49.0 L440.0,48.8 L440.8,48.5 L441.7,48.3 L442.6,48.1 L443.4,47.8 L444.3,47.6 L445.1,47.4 L446.0,47.1 L446.8,46.9 L447.7,46.7 L448.6,46.4 L449.4,46.2 L450.3,45.9 L451.1,45.7 L452.0,45.5 L452.8,45.2 L453.7,45.0 L454.6,44.7 L455.4,44.5 L456.3,44.3 L457.1,44.0 L458.0,43.8 L458.8,43.5 L459.7,43.3" fill="none" stroke="#111" stroke-width="6.1" stroke-linejoin="round" stroke-linecap="round"/>
<path d="M170.1,549.1 L171.4,541.5 L172.7,541.8 L174.0,542.4 L175.3,543.2 L176.6,532.9 L177.9,538.6 L179.2,534.7 L180.5,537.8 L181.8,531.9 L183.1,548.9 L184.4,534.2 L185.7,543.1 L187.0,535.9 L188.3,547.0 L189.6,542.9 L190.9,532.6 L192.2,546.5 L193.5,548.4 L194.8,547.6 L196.1,541.1 L197.4,532.8 L198.7,533.8 L200.0,548.1 L201.3,540.8 L202.6,533.5 L203.9,547.2 L205.2,542.5 L206.5,541.1 L207.8,537.3 L209.1,538.0 L210.4,534.7 L211.7,530.7 L213.0,547.1 L214.3,539.1 L215.6,540.7 L216.9,536.3 L218.2,544.7 L219.5,530.5 L220.8,537.3 L222.1,530.6 L223.4,532.4 L224.7,548.9 L226.0,542.8 L227.3,538.4 L228.6,540.2 L229.9,547.0 L231.2,536.7 L232.5,541.5 L233.8,543.3 L235.1,536.9 L236.4,540.1 L237.7,544.9 L239.0,547.7 L240.3,532.9 L241.6,548.2 L242.9,530.1 L244.2,538.5 L245.5,539.3 L246.8,529.9 L248.1,533.9 L249.4,539.4 L250.7,528.2 L252.0,536.8 L253.3,539.1 L256.0,536.0 L256.8,535.2 L257.7,534.4 L258.5,533.6 L259.4,532.9 L260.2,532.0 L261.0,531.2 L261.7,530.1 L262.3,529.0 L262.8,527.7 L263.2,526.3 L263.5,524.8 L263.8,523.2 L264.1,521.6 L264.4,519.9 L264.7,518.1 L265.1,516.3 L265.6,514.7 L266.0,513.4 L266.5,512.2 L267.0,510.8 L267.6,509.1 L268.2,506.9 L268.9,503.9 L269.6,500.0 L270.4,494.9 L271.3,488.7 L272.3,481.8 L273.4,474.3 L274.4,466.6 L275.4,459.0 L276.4,451.7 L277.3,445.0 L278.1,439.0 L278.9,433.4 L279.6,428.1 L280.3,422.8 L281.0,417.5 L281.8,412.1 L282.6,406.3 L283.4,400.0 L284.3,393.1 L285.3,385.8 L286.3,378.2 L287.4,370.3 L288.5,362.4 L289.5,354.6 L290.5,347.1 L291.4,340.0 L292.3,333.3 L293.1,327.0 L293.8,321.0 L294.5,315.0 L295.2,309.0 L296.0,303.0 L296.9,296.7 L298.0,290.0 L299.2,282.9 L300.5,275.5 L301.9,267.8 L303.4,260.0 L304.9,252.2 L306.4,244.5 L308.0,237.1 L309.6,230.0 L311.2,223.1 L312.9,216.3 L314.6,209.6 L316.4,203.1 L318.1,196.8 L319.9,190.9 L321.6,185.2 L323.2,180.0 L324.7,175.3 L326.2,171.0 L327.7,167.2 L329.1,163.6 L330.5,160.2 L331.9,156.9 L333.4,153.5 L335.0,150.0 L336.6,146.4 L338.3,142.7 L340.0,139.1 L341.8,135.5 L343.5,132.0 L345.3,128.5 L347.2,125.2 L349.0,122.0 L350.9,118.9 L353.0,115.7 L355.1,112.6 L357.3,109.7 L359.4,106.9 L361.3,104.3 L363.1,102.0 L364.6,100.0 L365.9,98.4 L366.9,97.2 L367.8,96.3 L368.5,95.6 L369.1,95.0 L369.8,94.5 L370.4,93.9 L371.2,93.1 L372.0,92.2 L372.8,91.4 L373.5,90.5 L374.3,89.7 L375.1,88.8 L375.9,88.0 L376.7,87.1 L377.5,86.3 L378.3,85.5 L379.1,84.7 L379.9,83.9 L380.6,83.1 L381.4,82.4 L382.2,81.6 L383.0,80.9 L383.8,80.1 L384.6,79.4 L385.4,78.7 L386.2,78.0 L387.0,77.4 L387.8,76.7 L388.6,76.0 L389.3,75.4 L390.1,74.8 L390.9,74.2 L391.7,73.6 L392.5,73.0 L393.3,72.4 L394.1,71.8 L394.9,71.3 L395.7,70.8 L396.5,70.3 L397.2,69.8 L398.0,69.3 L398.8,68.9 L399.6,68.5 L400.4,68.0 L401.2,67.6 L402.0,67.2 L402.8,66.8 L403.6,66.3 L404.4,65.9 L405.2,65.5 L405.9,65.0 L406.7,64.6 L407.5,64.1 L408.3,63.7 L409.1,63.2 L409.9,62.8 L410.7,62.3 L411.5,61.9 L412.3,61.4 L413.1,61.0 L413.8,60.6 L414.6,60.1 L415.4,59.7 L416.2,59.3 L417.0,59.0 L417.8,58.6 L418.6,58.2 L419.4,57.9 L420.2,57.5 L421.0,57.2 L421.8,56.8 L422.5,56.5 L423.3,56.2 L424.1,56.0 L424.9,55.7 L425.7,55.4 L426.5,55.1 L427.3,54.9 L428.1,54.6 L428.9,54.4 L429.7,54.1 L430.5,53.9 L431.2,53.6 L432.0,53.4 L432.8,53.1 L433.6,52.9 L434.4,52.6 L435.2,52.4 L436.0,52.2 L436.8,51.9 L437.6,51.7 L438.4,51.4 L439.1,51.2 L439.9,51.0 L440.7,50.8 L441.5,50.5 L442.3,50.3 L443.1,50.1 L443.9,49.9 L444.7,49.6 L445.5,49.4 L446.3,49.2 L447.1,49.0 L447.8,48.8 L448.6,48.5 L449.4,48.3 L450.2,48.1 L451.0,47.9 L451.8,47.7 L452.6,47.4 L453.4,47.2 L454.2,47.0 L455.0,46.8 L455.7,46.6 L456.5,46.3 L457.3,46.1 L458.1,45.9 L458.9,45.7 L459.7,45.5" fill="none" stroke="#111" stroke-width="6.1" stroke-linejoin="round" stroke-linecap="round"/>
<path d="M170.1,540.0 L171.4,544.2 L172.7,534.4 L174.0,533.9 L175.3,537.1 L176.6,533.5 L177.9,536.7 L179.2,548.5 L180.5,541.2 L181.8,536.6 L183.1,535.3 L184.4,548.6 L185.7,538.7 L187.0,549.1 L188.3,540.1 L189.6,540.2 L190.9,547.5 L192.2,544.5 L193.5,541.3 L194.8,538.3 L196.1,547.1 L197.4,538.0 L198.7,548.0 L200.0,531.3 L201.3,538.4 L202.6,540.1 L203.9,548.5 L205.2,534.9 L206.5,545.7 L207.8,543.2 L209.1,544.0 L210.4,542.3 L211.7,548.9 L213.0,536.5 L214.3,537.8 L215.6,534.0 L216.9,531.0 L218.2,534.2 L219.5,547.9 L220.8,546.4 L222.1,532.2 L223.4,541.8 L224.7,539.3 L226.0,541.6 L227.3,542.9 L228.6,536.0 L229.9,548.7 L231.2,539.1 L232.5,542.2 L233.8,542.4 L235.1,533.6 L236.4,531.2 L237.7,538.0 L239.0,544.9 L240.3,545.9 L241.6,544.2 L242.9,532.2 L244.2,540.8 L245.5,539.2 L246.8,540.3 L248.1,535.3 L249.4,540.8 L250.7,528.7 L252.0,528.4 L253.3,528.3 L254.6,531.5 L255.9,531.5 L257.2,530.6 L258.5,535.9 L259.8,528.5 L262.0,539.0 L263.1,538.3 L264.2,537.8 L265.4,537.3 L266.5,536.7 L267.7,536.1 L268.7,535.3 L269.8,534.4 L270.7,533.2 L271.6,531.7 L272.3,530.1 L273.1,528.2 L273.8,526.2 L274.4,524.1 L275.0,522.0 L275.7,519.8 L276.3,517.7 L276.9,515.8 L277.4,514.3 L278.0,512.9 L278.5,511.3 L279.0,509.5 L279.6,507.1 L280.2,504.0 L280.9,500.0 L281.7,494.8 L282.6,488.6 L283.6,481.7 L284.6,474.2 L285.6,466.5 L286.6,458.9 L287.6,451.7 L288.5,445.0 L289.3,439.0 L290.1,433.4 L290.8,428.1 L291.6,422.8 L292.3,417.5 L293.0,412.1 L293.8,406.3 L294.6,400.0 L295.5,393.1 L296.4,385.8 L297.4,378.2 L298.3,370.3 L299.3,362.4 L300.3,354.6 L301.3,347.1 L302.2,340.0 L303.1,333.3 L303.9,327.0 L304.7,321.0 L305.5,315.0 L306.3,309.0 L307.2,303.0 L308.2,296.7 L309.2,290.0 L310.3,282.9 L311.5,275.5 L312.8,267.8 L314.1,260.0 L315.5,252.2 L316.9,244.5 L318.3,237.1 L319.8,230.0 L321.3,223.1 L322.9,216.3 L324.5,209.6 L326.2,203.1 L327.9,196.8 L329.5,190.9 L331.1,185.2 L332.7,180.0 L334.2,175.3 L335.6,171.0 L337.0,167.2 L338.3,163.6 L339.7,160.2 L341.1,156.9 L342.5,153.5 L344.0,150.0 L345.6,146.4 L347.2,142.7 L348.8,139.1 L350.5,135.5 L352.2,132.0 L353.9,128.5 L355.7,125.2 L357.5,122.0 L359.4,118.9 L361.4,115.7 L363.5,112.6 L365.7,109.7 L367.7,106.9 L369.6,104.3 L371.4,102.0 L372.9,100.0 L374.0,98.4 L375.0,97.2 L375.7,96.3 L376.3,95.6 L376.9,95.0 L377.4,94.4 L378.0,93.8 L378.6,93.1 L379.3,92.2 L380.1,91.4 L380.8,90.5 L381.5,89.7 L382.2,88.8 L383.0,88.0 L383.7,87.2 L384.4,86.4 L385.1,85.6 L385.9,84.9 L386.6,84.1 L387.3,83.4 L388.0,82.7 L388.8,82.0 L389.5,81.3 L390.2,80.6 L390.9,79.9 L391.6,79.2 L392.4,78.6 L393.1,78.0 L393.8,77.3 L394.5,76.7 L395.3,76.1 L396.0,75.5 L396.7,75.0 L397.4,74.4 L398.2,73.8 L398.9,73.3 L399.6,72.8 L400.3,72.2 L401.1,71.7 L401.8,71.2 L402.5,70.8 L403.2,70.3 L404.0,69.9 L404.7,69.4 L405.4,69.0 L406.1,68.6 L406.9,68.2 L407.6,67.8 L408.3,67.3 L409.0,66.9 L409.7,66.5 L410.5,66.1 L411.2,65.6 L411.9,65.2 L412.6,64.8 L413.4,64.4 L414.1,64.0 L414.8,63.6 L415.5,63.2 L416.3,62.7 L417.0,62.3 L417.7,62.0 L418.4,61.6 L419.2,61.2 L419.9,60.8 L420.6,60.5 L421.3,60.1 L422.1,59.8 L422.8,59.4 L423.5,59.1 L424.2,58.8 L424.9,58.5 L425.7,58.2 L426.4,57.9 L427.1,57.6 L427.8,57.3 L428.6,57.1 L429.3,56.8 L430.0,56.5 L430.7,56.3 L431.5,56.0 L432.2,55.8 L432.9,55.5 L433.6,55.3 L434.4,55.0 L435.1,54.8 L435.8,54.6 L436.5,54.3 L437.3,54.1 L438.0,53.9 L438.7,53.6 L439.4,53.4 L440.2,53.2 L440.9,53.0 L441.6,52.7 L442.3,52.5 L443.0,52.3 L443.8,52.1 L444.5,51.9 L445.2,51.7 L445.9,51.4 L446.7,51.2 L447.4,51.0 L448.1,50.8 L448.8,50.6 L449.6,50.4 L450.3,50.2 L451.0,50.0 L451.7,49.8 L452.5,49.6 L453.2,49.4 L453.9,49.2 L454.6,49.0 L455.4,48.8 L456.1,48.6 L456.8,48.4 L457.5,48.2 L458.3,48.0 L459.0,47.8 L459.7,47.7" fill="none" stroke="#111" stroke-width="6.1" stroke-linejoin="round" stroke-linecap="round"/>
<path d="M170.1,541.5 L171.4,533.2 L172.7,543.2 L174.0,530.4 L175.3,536.1 L176.6,548.3 L177.9,540.5 L179.2,545.8 L180.5,542.8 L181.8,541.9 L183.1,533.7 L184.4,541.2 L185.7,530.8 L187.0,545.6 L188.3,548.7 L189.6,546.7 L190.9,531.0 L192.2,536.6 L193.5,536.2 L194.8,532.2 L196.1,542.2 L197.4,545.6 L198.7,536.1 L200.0,546.8 L201.3,545.5 L202.6,532.5 L203.9,545.0 L205.2,547.2 L206.5,533.8 L207.8,541.2 L209.1,542.5 L210.4,541.9 L211.7,531.9 L213.0,542.9 L214.3,542.3 L215.6,546.1 L216.9,545.7 L218.2,536.4 L219.5,544.1 L220.8,546.9 L222.1,547.4 L223.4,533.1 L224.7,530.5 L226.0,542.7 L227.3,534.2 L228.6,541.0 L229.9,548.4 L231.2,537.4 L232.5,534.9 L233.8,538.9 L235.1,542.8 L236.4,532.0 L237.7,537.4 L239.0,532.6 L240.3,542.9 L241.6,546.2 L242.9,537.3 L244.2,533.2 L245.5,535.6 L246.8,531.0 L248.1,531.5 L249.4,532.6 L250.7,534.4 L252.0,529.1 L253.3,538.5 L254.6,536.1 L255.9,532.2 L257.2,529.1 L258.5,538.7 L259.8,529.8 L261.1,529.9 L262.4,529.8 L263.7,529.1 L266.0,541.0 L267.3,540.4 L268.6,540.0 L269.9,539.6 L271.2,539.2 L272.5,538.6 L273.8,538.0 L275.0,537.1 L276.3,536.0 L277.6,534.6 L278.9,533.0 L280.2,531.2 L281.5,529.2 L282.7,527.1 L283.9,525.0 L285.1,522.7 L286.1,520.5 L287.0,518.4 L287.8,516.5 L288.6,514.7 L289.3,512.7 L289.9,510.4 L290.6,507.7 L291.3,504.2 L292.1,500.0 L292.9,494.7 L293.8,488.4 L294.7,481.5 L295.6,474.0 L296.6,466.4 L297.5,458.9 L298.3,451.6 L299.2,445.0 L300.0,439.0 L300.8,433.4 L301.5,428.1 L302.3,422.8 L303.0,417.5 L303.8,412.1 L304.6,406.3 L305.4,400.0 L306.3,393.1 L307.3,385.8 L308.3,378.2 L309.3,370.3 L310.3,362.4 L311.3,354.6 L312.3,347.1 L313.2,340.0 L314.0,333.3 L314.8,327.0 L315.5,321.0 L316.2,315.0 L316.9,309.0 L317.7,303.0 L318.5,296.7 L319.5,290.0 L320.6,282.9 L321.7,275.5 L322.9,267.8 L324.1,260.0 L325.4,252.2 L326.7,244.5 L328.1,237.1 L329.5,230.0 L331.0,223.1 L332.5,216.3 L334.1,209.6 L335.8,203.1 L337.4,196.8 L339.0,190.9 L340.6,185.2 L342.1,180.0 L343.5,175.3 L344.8,171.0 L346.1,167.2 L347.4,163.6 L348.6,160.2 L349.9,156.9 L351.3,153.5 L352.7,150.0 L354.2,146.4 L355.8,142.7 L357.4,139.1 L359.1,135.5 L360.8,132.0 L362.5,128.5 L364.3,125.2 L366.0,122.0 L367.8,118.9 L369.8,115.7 L371.8,112.6 L373.8,109.7 L375.8,106.9 L377.6,104.3 L379.3,102.0 L380.6,100.0 L381.8,98.4 L382.7,97.2 L383.4,96.3 L383.9,95.6 L384.5,95.0 L384.9,94.4 L385.5,93.8 L386.1,93.1 L386.7,92.2 L387.4,91.4 L388.1,90.5 L388.7,89.7 L389.4,88.8 L390.0,88.0 L390.7,87.2 L391.3,86.5 L392.0,85.7 L392.6,85.0 L393.3,84.3 L394.0,83.6 L394.6,82.9 L395.3,82.3 L395.9,81.6 L396.6,81.0 L397.2,80.4 L397.9,79.8 L398.6,79.2 L399.2,78.6 L399.9,78.0 L400.5,77.4 L401.2,76.9 L401.8,76.3 L402.5,75.8 L403.2,75.2 L403.8,74.7 L404.5,74.2 L405.1,73.7 L405.8,73.2 L406.5,72.7 L407.1,72.2 L407.8,71.7 L408.4,71.3 L409.1,70.8 L409.7,70.4 L410.4,70.0 L411.1,69.6 L411.7,69.1 L412.4,68.7 L413.0,68.3 L413.7,67.9 L414.3,67.5 L415.0,67.1 L415.7,66.7 L416.3,66.3 L417.0,65.9 L417.6,65.5 L418.3,65.2 L418.9,64.8 L419.6,64.4 L420.3,64.1 L420.9,63.7 L421.6,63.3 L422.2,63.0 L422.9,62.6 L423.5,62.3 L424.2,62.0 L424.9,61.6 L425.5,61.3 L426.2,61.0 L426.8,60.7 L427.5,60.4 L428.1,60.1 L428.8,59.8 L429.5,59.5 L430.1,59.3 L430.8,59.0 L431.4,58.7 L432.1,58.5 L432.7,58.2 L433.4,57.9 L434.1,57.7 L434.7,57.5 L435.4,57.2 L436.0,57.0 L436.7,56.7 L437.3,56.5 L438.0,56.3 L438.7,56.0 L439.3,55.8 L440.0,55.6 L440.6,55.4 L441.3,55.1 L442.0,54.9 L442.6,54.7 L443.3,54.5 L443.9,54.3 L444.6,54.1 L445.2,53.9 L445.9,53.7 L446.6,53.5 L447.2,53.3 L447.9,53.1 L448.5,52.9 L449.2,52.7 L449.8,52.5 L450.5,52.3 L451.2,52.1 L451.8,51.9 L452.5,51.8 L453.1,51.6 L453.8,51.4 L454.4,51.2 L455.1,51.1 L455.8,50.9 L456.4,50.7 L457.1,50.5 L457.7,50.4 L458.4,50.2 L459.0,50.0 L459.7,49.8" fill="none" stroke="#111" stroke-width="6.1" stroke-linejoin="round" stroke-linecap="round"/>
<path d="M170.1,547.7 L171.4,535.3 L172.7,536.0 L174.0,546.2 L175.3,542.1 L176.6,533.6 L177.9,538.5 L179.2,547.2 L180.5,537.3 L181.8,543.9 L183.1,531.9 L184.4,544.2 L185.7,545.1 L187.0,546.1 L188.3,543.1 L189.6,537.2 L190.9,531.3 L192.2,540.1 L193.5,544.8 L194.8,533.7 L196.1,535.2 L197.4,540.5 L198.7,544.6 L200.0,547.5 L201.3,532.5 L202.6,533.6 L203.9,545.6 L205.2,542.6 L206.5,544.1 L207.8,549.4 L209.1,548.3 L210.4,546.4 L211.7,545.2 L213.0,537.7 L214.3,542.5 L215.6,533.6 L216.9,544.8 L218.2,544.8 L219.5,544.1 L220.8,538.7 L222.1,537.4 L223.4,538.2 L224.7,530.7 L226.0,546.5 L227.3,540.6 L228.6,537.6 L229.9,540.7 L231.2,544.1 L232.5,537.4 L233.8,546.2 L235.1,547.9 L236.4,537.6 L237.7,532.7 L239.0,544.8 L240.3,549.4 L241.6,532.9 L242.9,543.9 L244.2,539.6 L245.5,540.9 L246.8,529.7 L248.1,529.3 L249.4,541.8 L250.7,529.6 L252.0,530.5 L253.3,536.0 L254.6,534.2 L255.9,538.5 L257.2,530.7 L258.5,540.8 L259.8,531.0 L261.1,538.8 L262.4,528.9 L263.7,534.6 L265.0,528.5 L268.0,543.0 L269.2,542.6 L270.4,542.3 L271.6,542.0 L272.8,541.6 L273.9,541.3 L275.2,540.9 L276.4,540.5 L277.7,540.0 L279.0,539.5 L280.4,539.1 L281.9,538.6 L283.3,538.1 L284.8,537.5 L286.2,536.7 L287.6,535.8 L289.0,534.6 L290.3,533.2 L291.7,531.5 L293.1,529.6 L294.4,527.7 L295.7,525.5 L296.8,523.4 L297.9,521.2 L298.8,519.0 L299.5,517.0 L300.0,515.3 L300.4,513.7 L300.6,512.0 L300.9,509.9 L301.2,507.4 L301.7,504.1 L302.3,500.0 L303.1,494.8 L304.1,488.5 L305.1,481.6 L306.3,474.1 L307.4,466.5 L308.5,458.9 L309.6,451.6 L310.5,445.0 L311.3,439.0 L312.0,433.4 L312.7,428.1 L313.3,422.8 L314.0,417.5 L314.6,412.1 L315.3,406.3 L316.1,400.0 L317.0,393.1 L317.9,385.8 L318.8,378.2 L319.8,370.3 L320.8,362.4 L321.7,354.6 L322.7,347.1 L323.6,340.0 L324.4,333.3 L325.2,327.0 L326.0,321.0 L326.7,315.0 L327.5,309.0 L328.3,303.0 L329.2,296.7 L330.2,290.0 L331.3,282.9 L332.5,275.5 L333.7,267.8 L335.0,260.0 L336.3,252.2 L337.6,244.5 L339.0,237.1 L340.3,230.0 L341.6,223.1 L343.0,216.3 L344.4,209.6 L345.8,203.1 L347.2,196.8 L348.5,190.9 L349.9,185.2 L351.2,180.0 L352.5,175.3 L353.6,171.0 L354.8,167.2 L355.9,163.6 L357.1,160.2 L358.3,156.9 L359.6,153.5 L361.0,150.0 L362.5,146.4 L364.1,142.7 L365.8,139.1 L367.5,135.5 L369.2,132.0 L371.0,128.5 L372.7,125.2 L374.5,122.0 L376.3,118.9 L378.2,115.7 L380.2,112.7 L382.2,109.7 L384.1,106.9 L385.9,104.3 L387.5,102.0 L388.8,100.0 L389.8,98.4 L390.7,97.2 L391.3,96.3 L391.8,95.5 L392.2,94.9 L392.6,94.4 L393.0,93.8 L393.5,93.0 L394.1,92.2 L394.7,91.3 L395.3,90.5 L395.9,89.7 L396.5,88.8 L397.1,88.0 L397.7,87.3 L398.3,86.5 L398.8,85.8 L399.4,85.1 L400.0,84.5 L400.6,83.8 L401.2,83.2 L401.8,82.6 L402.4,82.0 L403.0,81.4 L403.6,80.9 L404.2,80.3 L404.8,79.7 L405.3,79.2 L405.9,78.7 L406.5,78.1 L407.1,77.6 L407.7,77.1 L408.3,76.6 L408.9,76.1 L409.5,75.6 L410.1,75.1 L410.7,74.6 L411.3,74.1 L411.8,73.7 L412.4,73.2 L413.0,72.7 L413.6,72.3 L414.2,71.8 L414.8,71.4 L415.4,71.0 L416.0,70.5 L416.6,70.1 L417.2,69.7 L417.8,69.3 L418.3,68.9 L418.9,68.5 L419.5,68.1 L420.1,67.8 L420.7,67.4 L421.3,67.1 L421.9,66.7 L422.5,66.4 L423.1,66.0 L423.7,65.7 L424.2,65.4 L424.8,65.0 L425.4,64.7 L426.0,64.4 L426.6,64.1 L427.2,63.8 L427.8,63.5 L428.4,63.2 L429.0,62.9 L429.6,62.6 L430.2,62.3 L430.7,62.0 L431.3,61.7 L431.9,61.5 L432.5,61.2 L433.1,60.9 L433.7,60.6 L434.3,60.4 L434.9,60.1 L435.5,59.9 L436.1,59.6 L436.7,59.4 L437.2,59.1 L437.8,58.9 L438.4,58.7 L439.0,58.4 L439.6,58.2 L440.2,58.0 L440.8,57.7 L441.4,57.5 L442.0,57.3 L442.6,57.1 L443.2,56.9 L443.7,56.7 L444.3,56.5 L444.9,56.2 L445.5,56.0 L446.1,55.8 L446.7,55.6 L447.3,55.4 L447.9,55.3 L448.5,55.1 L449.1,54.9 L449.7,54.7 L450.2,54.5 L450.8,54.3 L451.4,54.2 L452.0,54.0 L452.6,53.9 L453.2,53.7 L453.8,53.5 L454.4,53.4 L455.0,53.2 L455.6,53.1 L456.2,52.9 L456.7,52.8 L457.3,52.6 L457.9,52.5 L458.5,52.3 L459.1,52.2 L459.7,52.0" fill="none" stroke="#111" stroke-width="6.1" stroke-linejoin="round" stroke-linecap="round"/>
<path d="M173.0,540.0 L176.0,519.0 L179.0,538.0" fill="none" stroke="#111" stroke-width="6.1" stroke-linejoin="round" stroke-linecap="round"/>
<path d="M225.0,538.0 L229.0,522.0 L233.0,538.0" fill="none" stroke="#111" stroke-width="6.1" stroke-linejoin="round" stroke-linecap="round"/>
<line x1="728.9" y1="105.1" x2="1159.5" y2="170.6" stroke="#ff0000" stroke-width="5.4"/>
<line x1="728.9" y1="395.2" x2="1159.5" y2="465.6" stroke="#111" stroke-width="5.4"/>
<circle cx="728.90" cy="101.2" r="10.7" fill="#ff0000"/>
<circle cx="836.55" cy="127" r="10.7" fill="#ff0000"/>
<circle cx="944.20" cy="138" r="10.7" fill="#ff0000"/>
<circle cx="1051.85" cy="153.2" r="10.7" fill="#ff0000"/>
<circle cx="1159.50" cy="170" r="10.7" fill="#ff0000"/>
<circle cx="728.90" cy="395.4" r="10.7" fill="#111"/>
<circle cx="836.55" cy="412.4" r="10.7" fill="#111"/>
<circle cx="944.20" cy="430.2" r="10.7" fill="#111"/>
<circle cx="1051.85" cy="449" r="10.7" fill="#111"/>
<circle cx="1159.50" cy="465" r="10.7" fill="#111"/>
<text x="36.97" y="24.90" font-size="30.5" fill="#000" >1.0E-05</text>
<text x="36.97" y="132.20" font-size="30.5" fill="#000" >1.0E-06</text>
<text x="36.97" y="239.50" font-size="30.5" fill="#000" >1.0E-07</text>
<text x="36.97" y="346.80" font-size="30.5" fill="#000" >1.0E-08</text>
<text x="36.97" y="454.10" font-size="30.5" fill="#000" >1.0E-09</text>
<text x="36.67" y="561.40" font-size="30.5" fill="#000" >1.0E-10</text>
<text x="138.52" y="596.50" font-size="30.5" fill="#000" >-2.0</text>
<text x="211.17" y="596.50" font-size="30.5" fill="#000" >-1.0</text>
<text x="289.00" y="596.50" font-size="30.5" fill="#000" >0.0</text>
<text x="361.04" y="596.50" font-size="30.5" fill="#000" >1.0</text>
<text x="434.15" y="596.50" font-size="30.5" fill="#000" >2.0</text>
<text x="506.95" y="596.50" font-size="30.5" fill="#000" >3.0</text>
<text x="579.91" y="596.50" font-size="30.5" fill="#000" >4.0</text>
<text x="653.12" y="21.80" font-size="30.5" fill="#000" >3.0</text>
<text x="653.43" y="98.56" font-size="30.5" fill="#000" >2.5</text>
<text x="653.12" y="175.31" font-size="30.5" fill="#000" >2.0</text>
<text x="653.43" y="252.07" font-size="30.5" fill="#000" >1.5</text>
<text x="653.12" y="328.83" font-size="30.5" fill="#000" >1.0</text>
<text x="653.43" y="405.59" font-size="30.5" fill="#000" >0.5</text>
<text x="653.12" y="482.34" font-size="30.5" fill="#000" >0.0</text>
<text x="643.06" y="559.10" font-size="30.5" fill="#000" >-0.5</text>
<text x="698.42" y="594.50" font-size="30.5" fill="#000" >-1.0</text>
<text x="806.22" y="594.50" font-size="30.5" fill="#000" >-0.5</text>
<text x="918.90" y="594.50" font-size="30.5" fill="#000" >0.0</text>
<text x="1026.70" y="594.50" font-size="30.5" fill="#000" >0.5</text>
<text x="1133.59" y="594.50" font-size="30.5" fill="#000" >1.0</text>
<text x="289.00" y="634.00" font-size="30" fill="#000" >TG voltage (V)</text>
<text transform="translate(21.8,283.65) rotate(-90)" x="-111.15" y="0" font-size="30">Drain current (A)</text>
<text transform="translate(648.6,310) rotate(-90)" x="-0.31" y="0" font-size="31" fill="#000">V</text>
<text transform="translate(655.2,288.8) rotate(-90)" x="-0.38" y="0" font-size="19" fill="#000">th</text>
<text transform="translate(648.6,262.5) rotate(-90)" x="-1.86" y="0" font-size="31" fill="#000">(V)</text>
<text x="922.30" y="627.90" font-size="30.5" fill="#000" >V</text>
<text x="941.80" y="635.10" font-size="20" fill="#000" >BG</text>
<text x="181.94" y="47.10" font-size="26.5" fill="#000" >V</text>
<text x="198.58" y="53.70" font-size="18" fill="#000" >d</text>
<text x="208.49" y="47.10" font-size="26.3" fill="#000" >=0.1 V</text>
<text x="549.09" y="49.80" font-size="33.5" fill="#000" >(a)</text>
<text x="265.68" y="127.60" font-size="26.5" fill="#000" >CLC</text>
<text x="225.40" y="259.00" font-size="26.2" fill="#000" >1.0 V</text>
<text x="344.45" y="259.00" font-size="26.2" fill="#000" >-1.0 V</text>
<text x="494.82" y="176.80" font-size="26" fill="#ff0000" >Ni-MIC</text>
<text x="341.30" y="327.20" font-size="26.2" fill="#ff0000" >1.0 V</text>
<text x="459.45" y="344.70" font-size="26.2" fill="#ff0000" >-1.0 V</text>
<text x="465.04" y="477.60" font-size="26" fill="#000" >W=10 μm</text>
<text x="464.52" y="512.00" font-size="26" fill="#000" >L=10 μm</text>
<text x="1107.01" y="49.40" font-size="33.2" fill="#000" >(b)</text>
<text x="759.30" y="104.20" font-size="30" fill="#ff0000" >Ni-MIC</text>
<text x="769.30" y="391.80" font-size="30" fill="#000" >CLC</text>
<text x="975.24" y="128.80" font-size="26" fill="#ff0000" >γ=0.21(0.69)</text>
<text x="976.64" y="420.30" font-size="26" fill="#000" >γ=0.23(0.27)</text>
</svg>
</body></html>
